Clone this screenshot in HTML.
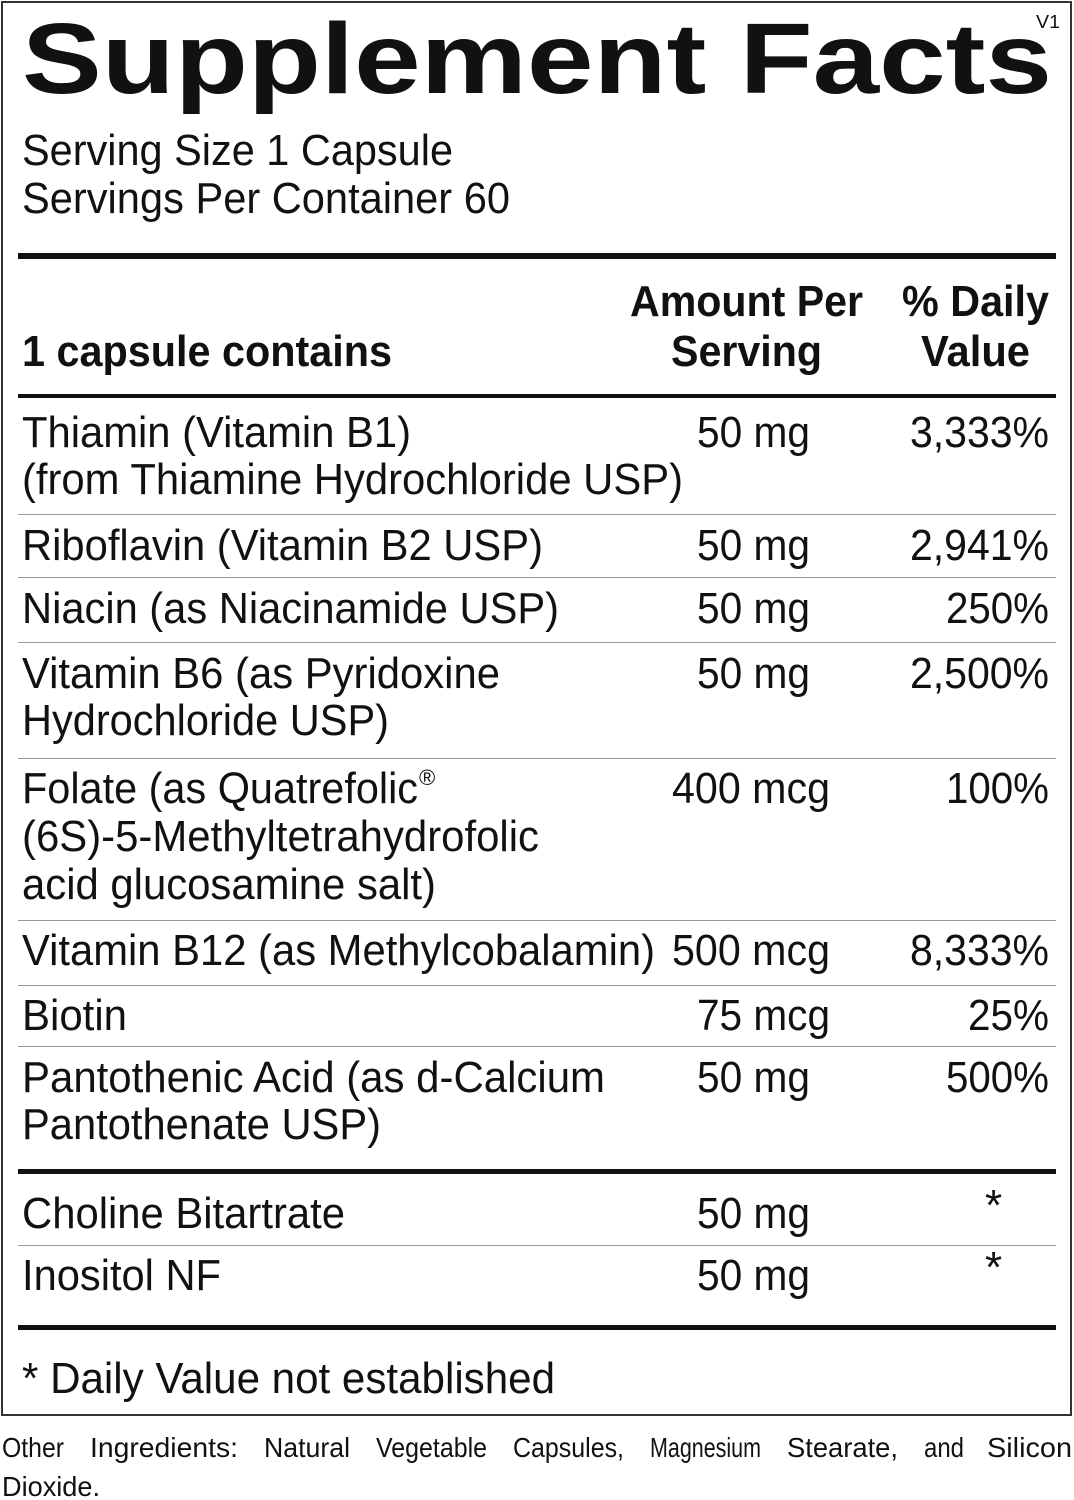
<!DOCTYPE html>
<html><head><meta charset="utf-8"><style>
html,body{margin:0;padding:0;background:#fff;}
svg{display:block;}
text{font-family:"Liberation Sans",sans-serif;fill:#111;}
.b{font-weight:bold;}
</style></head><body>
<svg width="1074" height="1500" viewBox="0 0 1074 1500" xmlns="http://www.w3.org/2000/svg">
<rect x="2" y="2" width="1069" height="1413" fill="none" stroke="#333" stroke-width="2"/>
<text class="b" x="22" y="93" font-size="100" textLength="1030" lengthAdjust="spacingAndGlyphs">Supplement Facts</text>
<text x="1036" y="28" font-size="18" textLength="24" lengthAdjust="spacingAndGlyphs">V1</text>
<text x="22" y="165" font-size="44" textLength="431" lengthAdjust="spacingAndGlyphs">Serving Size 1 Capsule</text>
<text x="22" y="213" font-size="44" textLength="488" lengthAdjust="spacingAndGlyphs">Servings Per Container 60</text>
<rect x="18" y="253" width="1038" height="6" fill="#111"/>
<text class="b" x="630" y="316" font-size="44" textLength="233" lengthAdjust="spacingAndGlyphs">Amount Per</text>
<text class="b" x="671" y="366" font-size="44" textLength="151" lengthAdjust="spacingAndGlyphs">Serving</text>
<text class="b" x="902" y="316" font-size="44" textLength="147" lengthAdjust="spacingAndGlyphs">% Daily</text>
<text class="b" x="921" y="366" font-size="44" textLength="109" lengthAdjust="spacingAndGlyphs">Value</text>
<text class="b" x="22" y="366" font-size="44" textLength="370" lengthAdjust="spacingAndGlyphs">1 capsule contains</text>
<rect x="18" y="394" width="1038" height="4" fill="#111"/>
<g font-size="44">
<text x="22" y="447" textLength="389" lengthAdjust="spacingAndGlyphs">Thiamin (Vitamin B1)</text>
<text x="22" y="494" textLength="661" lengthAdjust="spacingAndGlyphs">(from Thiamine Hydrochloride USP)</text>
<text x="697" y="447" textLength="113" lengthAdjust="spacingAndGlyphs">50 mg</text>
<text x="910" y="447" textLength="139" lengthAdjust="spacingAndGlyphs">3,333%</text>

<text x="22" y="560" textLength="521" lengthAdjust="spacingAndGlyphs">Riboflavin (Vitamin B2 USP)</text>
<text x="697" y="560" textLength="113" lengthAdjust="spacingAndGlyphs">50 mg</text>
<text x="910" y="560" textLength="139" lengthAdjust="spacingAndGlyphs">2,941%</text>

<text x="22" y="623" textLength="537" lengthAdjust="spacingAndGlyphs">Niacin (as Niacinamide USP)</text>
<text x="697" y="623" textLength="113" lengthAdjust="spacingAndGlyphs">50 mg</text>
<text x="946" y="623" textLength="103" lengthAdjust="spacingAndGlyphs">250%</text>

<text x="22" y="688" textLength="478" lengthAdjust="spacingAndGlyphs">Vitamin B6 (as Pyridoxine</text>
<text x="22" y="735" textLength="367" lengthAdjust="spacingAndGlyphs">Hydrochloride USP)</text>
<text x="697" y="688" textLength="113" lengthAdjust="spacingAndGlyphs">50 mg</text>
<text x="910" y="688" textLength="139" lengthAdjust="spacingAndGlyphs">2,500%</text>

<text x="22" y="803" textLength="396" lengthAdjust="spacingAndGlyphs">Folate (as Quatrefolic</text>
<text x="419" y="785" font-size="22">®</text>
<text x="22" y="851" textLength="517" lengthAdjust="spacingAndGlyphs">(6S)-5-Methyltetrahydrofolic</text>
<text x="22" y="899" textLength="414" lengthAdjust="spacingAndGlyphs">acid glucosamine salt)</text>
<text x="672" y="803" textLength="158" lengthAdjust="spacingAndGlyphs">400 mcg</text>
<text x="946" y="803" textLength="103" lengthAdjust="spacingAndGlyphs">100%</text>

<text x="22" y="965" textLength="633" lengthAdjust="spacingAndGlyphs">Vitamin B12 (as Methylcobalamin)</text>
<text x="672" y="965" textLength="158" lengthAdjust="spacingAndGlyphs">500 mcg</text>
<text x="910" y="965" textLength="139" lengthAdjust="spacingAndGlyphs">8,333%</text>

<text x="22" y="1030" textLength="105" lengthAdjust="spacingAndGlyphs">Biotin</text>
<text x="697" y="1030" textLength="133" lengthAdjust="spacingAndGlyphs">75 mcg</text>
<text x="968" y="1030" textLength="81" lengthAdjust="spacingAndGlyphs">25%</text>

<text x="22" y="1092" textLength="583" lengthAdjust="spacingAndGlyphs">Pantothenic Acid (as d-Calcium</text>
<text x="22" y="1139" textLength="359" lengthAdjust="spacingAndGlyphs">Pantothenate USP)</text>
<text x="697" y="1092" textLength="113" lengthAdjust="spacingAndGlyphs">50 mg</text>
<text x="946" y="1092" textLength="103" lengthAdjust="spacingAndGlyphs">500%</text>

<text x="22" y="1228" textLength="323" lengthAdjust="spacingAndGlyphs">Choline Bitartrate</text>
<text x="697" y="1228" textLength="113" lengthAdjust="spacingAndGlyphs">50 mg</text>
<text x="985" y="1220">*</text>

<text x="22" y="1290" textLength="199" lengthAdjust="spacingAndGlyphs">Inositol NF</text>
<text x="697" y="1290" textLength="113" lengthAdjust="spacingAndGlyphs">50 mg</text>
<text x="985" y="1282">*</text>

<text x="22" y="1393" textLength="533" lengthAdjust="spacingAndGlyphs">* Daily Value not established</text>
</g>
<g fill="#999">
<rect x="18" y="514" width="1038" height="1"/>
<rect x="18" y="577" width="1038" height="1"/>
<rect x="18" y="642" width="1038" height="1"/>
<rect x="18" y="758" width="1038" height="1"/>
<rect x="18" y="920" width="1038" height="1"/>
<rect x="18" y="985" width="1038" height="1"/>
<rect x="18" y="1046" width="1038" height="1"/>
<rect x="18" y="1245" width="1038" height="1"/>
</g>
<rect x="18" y="1169" width="1038" height="5" fill="#111"/>
<rect x="18" y="1325" width="1038" height="5" fill="#111"/>
<g font-size="28">
<text x="2" y="1457" textLength="62" lengthAdjust="spacingAndGlyphs">Other</text>
<text x="90" y="1457" textLength="148" lengthAdjust="spacingAndGlyphs">Ingredients:</text>
<text x="264" y="1457" textLength="86" lengthAdjust="spacingAndGlyphs">Natural</text>
<text x="376" y="1457" textLength="111" lengthAdjust="spacingAndGlyphs">Vegetable</text>
<text x="513" y="1457" textLength="111" lengthAdjust="spacingAndGlyphs">Capsules,</text>
<text x="650" y="1457" textLength="111" lengthAdjust="spacingAndGlyphs">Magnesium</text>
<text x="787" y="1457" textLength="111" lengthAdjust="spacingAndGlyphs">Stearate,</text>
<text x="924" y="1457" textLength="40" lengthAdjust="spacingAndGlyphs">and</text>
<text x="987" y="1457" textLength="85" lengthAdjust="spacingAndGlyphs">Silicon</text>
<text x="2" y="1496" textLength="98" lengthAdjust="spacingAndGlyphs">Dioxide.</text>
</g>
</svg>
</body></html>
